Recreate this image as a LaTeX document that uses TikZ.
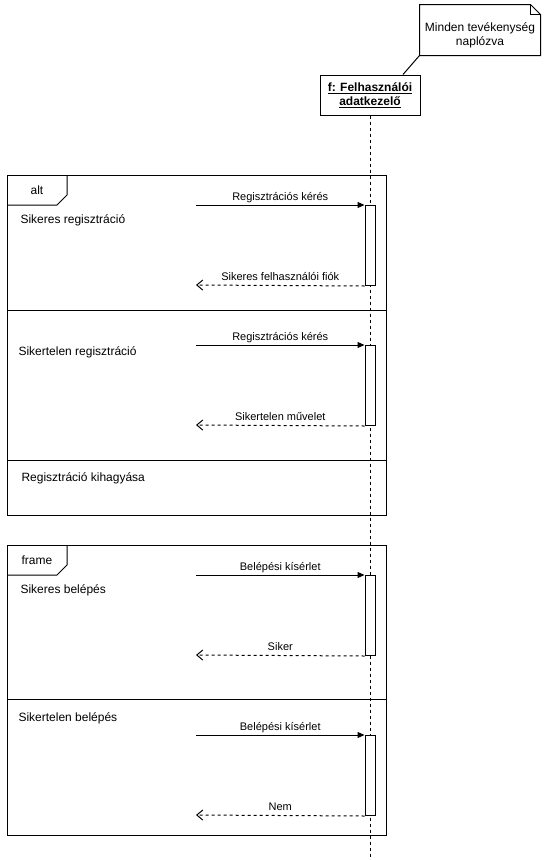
\documentclass[tikz,border=0pt]{standalone}
\usepackage{fontspec}
\setmainfont{Liberation Sans}
\usetikzlibrary{arrows.meta}

\begin{document}
\begin{tikzpicture}[x=1pt, y=-1pt, line width=1pt,
    lifebox/.style={draw, minimum width=100pt, minimum height=40pt, align=center, font=\fontsize{12}{14}\selectfont\bfseries},
    actbox/.style={draw, fill=white, minimum width=10pt, minimum height=80pt, inner sep=0pt},
    fragbox/.style={draw, anchor=north west, inner sep=0pt, minimum width=379pt},
    guard/.style={anchor=west, inner sep=0pt, font=\fontsize{12}{14}\selectfont},
    msg/.style={-{Triangle[length=7pt, width=6pt]}},
    reply/.style={dash pattern=on 3pt off 3pt, -{Straight Barb[length=6pt, width=10pt]}},
    msglabel/.style={font=\fontsize{11}{13}\selectfont, anchor=south, inner sep=2pt}]
    \useasboundingbox (0,0) rectangle (549,860);
    % lifeline and note
    \node[lifebox] (f) at (370,95) {\underline{f: Felhasználói}\\\underline{adatkezelő}};
    \coordinate (fend) at (370,860);
    \draw[dash pattern=on 3pt off 3pt] (f.south) -- (fend);
    \node[minimum width=120pt, minimum height=50pt, align=center, font=\fontsize{12}{14}\selectfont] (note) at (480,30) {};
    \node[align=center, font=\fontsize{12}{14}\selectfont] (notetext) at (480,35) {Minden tevékenység\\naplózva};
    \draw (note.north west) -- ([xshift=-10pt]note.north east) -- ([yshift=-10pt]note.north east) -- (note.south east) -- (note.south west) -- cycle;
    \draw ([xshift=-10pt]note.north east) -- ([xshift=-10pt, yshift=-10pt]note.north east) -- ([yshift=-10pt]note.north east);
    \draw (note.south west) -- ([xshift=33pt]f.north);
    % alt fragment
    \node[fragbox, minimum height=340pt] (alt) at (7,175) {};
    \draw ([yshift=-30pt]alt.north west) -- ++(50,0) -- ++(10,-10) -- ([xshift=60pt]alt.north west);
    \node[font=\fontsize{12}{14}\selectfont] (altlabel) at ([xshift=30pt, yshift=-15pt]alt.north west) {alt};
    \draw (alt.west |- 0,310) -- (alt.east |- 0,310);
    \draw (alt.west |- 0,460) -- (alt.east |- 0,460);
    \node[guard] (g1) at (20,220) {Sikeres regisztráció};
    \node[guard] (g2) at (18,352) {Sikertelen regisztráció};
    \node[guard] (g3) at (21,478) {Regisztráció kihagyása};
    % frame fragment
    \node[fragbox, minimum height=290pt] (frm) at (7,545) {};
    \draw ([yshift=-30pt]frm.north west) -- ++(50,0) -- ++(10,-10) -- ([xshift=60pt]frm.north west);
    \node[font=\fontsize{12}{14}\selectfont] (frmlabel) at ([xshift=30pt, yshift=-15pt]frm.north west) {frame};
    \draw (frm.west |- 0,699) -- (frm.east |- 0,699);
    \node[guard] (g4) at (20,590) {Sikeres belépés};
    \node[guard] (g5) at (18,718) {Sikertelen belépés};
    % messages
    \foreach \i/\y/\req/\ans in {1/205/Regisztrációs kérés/Sikeres felhasználói fiók, 2/345/Regisztrációs kérés/Sikertelen művelet, 3/575/Belépési kísérlet/Siker, 4/735/Belépési kísérlet/Nem}{
      \node[actbox, anchor=north] (act\i) at (370,\y) {};
      \coordinate (from\i) at (196,\y);
      \coordinate (to\i) at (196,\y+80);
      \draw[msg] (from\i) -- (act\i.north west) node[msglabel, midway] {\req};
      \draw[reply] (act\i.south west) -- (to\i) node[msglabel, midway, inner sep=4pt] {\ans};
    }
\end{tikzpicture}
\end{document}
